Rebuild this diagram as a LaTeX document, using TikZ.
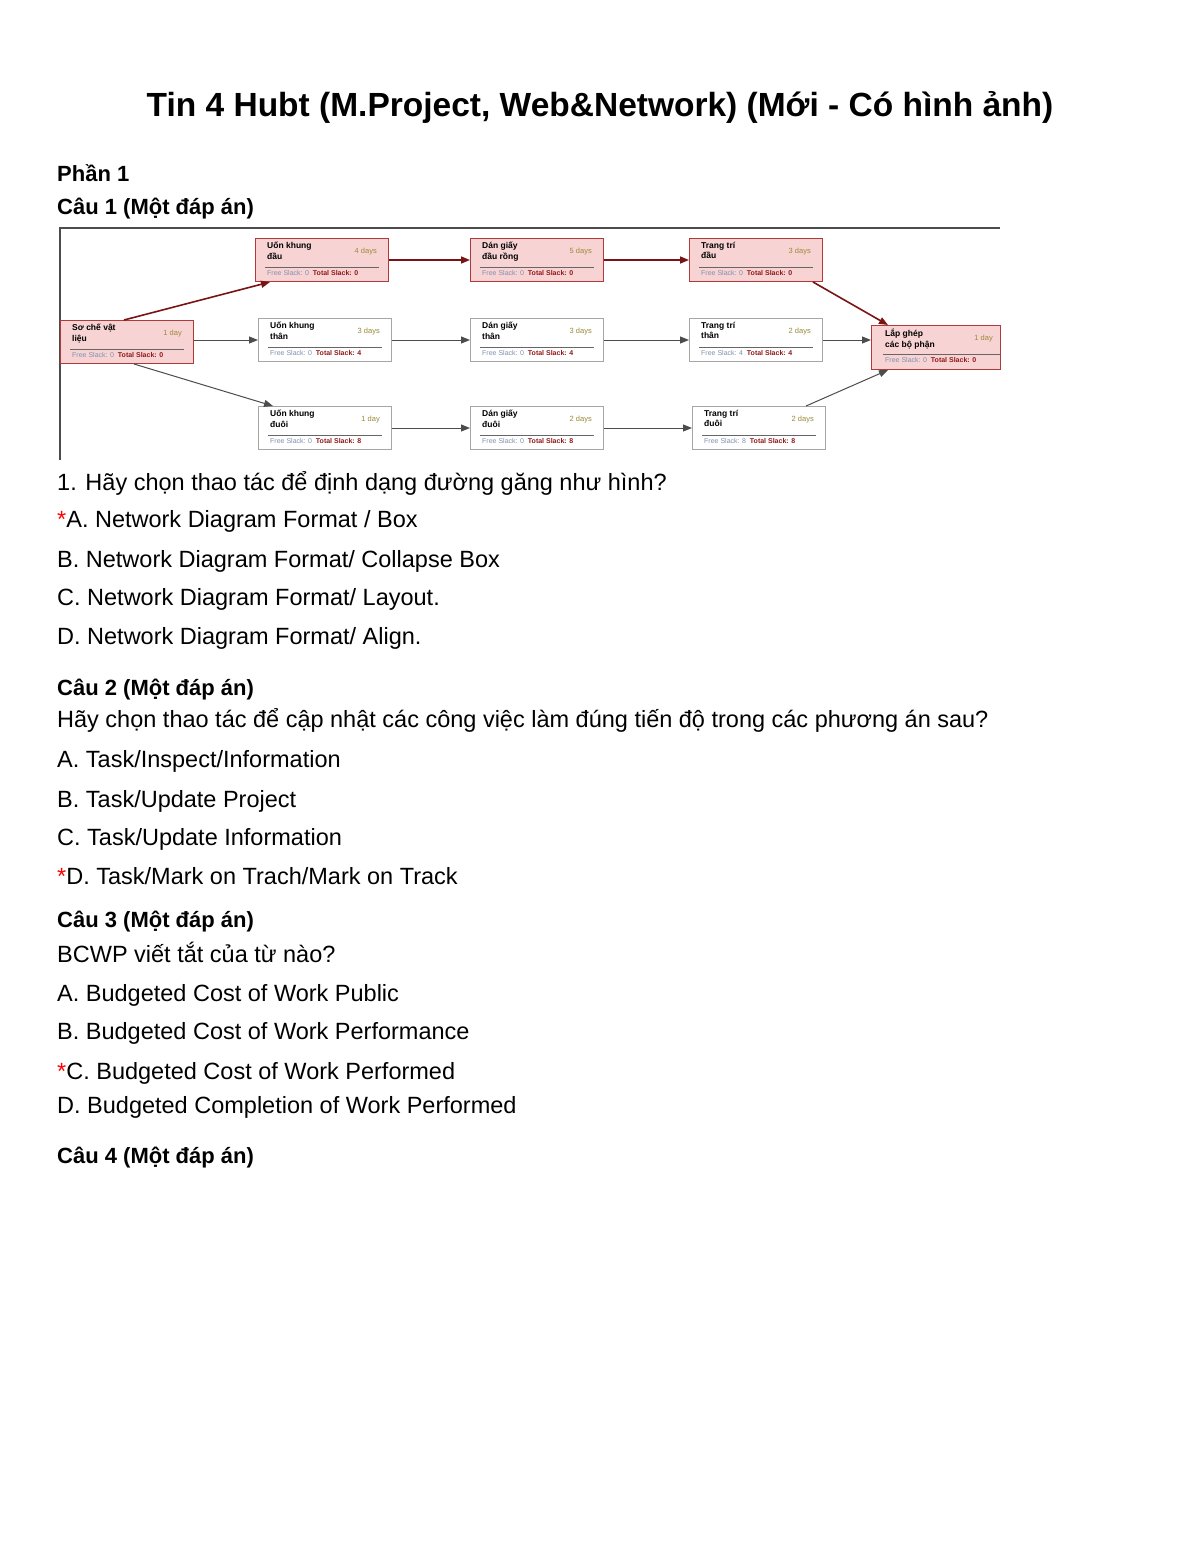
\documentclass[tikz,border=0pt]{standalone}
\usepackage{fontspec}
\setmainfont{Liberation Sans}
\usetikzlibrary{arrows.meta}
\definecolor{crit}{HTML}{B03A3A}
\definecolor{critfill}{HTML}{F8D3D3}
\definecolor{dayc}{HTML}{9A8A3A}
\definecolor{freec}{HTML}{8090B0}
\definecolor{totc}{HTML}{901818}
\tikzset{
 crbox/.style={draw=crit,fill=critfill,line width=1pt},
 nbox/.style={draw=gray!70,fill=white,line width=1pt},
 crarr/.style={draw=totc!85!black,line width=1.6pt,-{Triangle[length=9pt,width=7pt]}},
 narr/.style={draw=black!70,line width=1pt,-{Triangle[length=9pt,width=7pt]}},
 qtext/.style={anchor=base west,inner sep=0,font=\fontsize{23.5}{27}\selectfont},
 qhead/.style={qtext,font=\fontsize{22}{26}\selectfont\bfseries},
}
\newcommand\tk[9]{%
 \node[#4,minimum width=133pt,minimum height=43pt,inner sep=0,anchor=north west] (#1) at (#2,#3) {};
 \node[anchor=north west,inner sep=0,align=left,font=\fontsize{8.5}{10.5}\selectfont\bfseries] at ([shift={(12pt,-4pt)}]#1.north west) {#5\\#6};
 \node[anchor=north east,inner sep=0,font=\fontsize{7.5}{9}\selectfont,text=dayc] at ([shift={(-12pt,-10pt)}]#1.north east) {#7};
 \draw[black!60] ([shift={(10pt,-29pt)}]#1.north west) -- ([shift={(-10pt,-29pt)}]#1.north east);
 \node[anchor=north west,inner sep=0,font=\fontsize{7}{8}\selectfont] at ([shift={(12pt,-32pt)}]#1.north west) {\textcolor{freec}{Free Slack: #8}\ \ \textcolor{totc}{\bfseries Total Slack: #9}};
}
\begin{document}
\begin{tikzpicture}[x=1pt,y=-1pt]
\useasboundingbox[fill=white] (0,0) rectangle (1200,1553);
\node[anchor=base,inner sep=0,font=\fontsize{33.5}{40}\selectfont\bfseries] (title) at (600,116) {Tin 4 Hubt (M.Project, Web\&Network) (Mới - Có hình ảnh)};
\node[qhead] (p1) at (57,181) {Phần 1};
\node[qhead] (c1) at (57,214) {Câu 1 (Một đáp án)};
% frame
\draw[black!70,line width=1.2pt] (60,460) -- (60,228) -- (1000,228);
\tk{a}{60}{320}{crbox}{Sơ chế vật}{liệu}{1 day}{0}{0}
\tk{b1}{255}{238}{crbox}{Uốn khung}{đầu}{4 days}{0}{0}
\tk{b2}{258}{318}{nbox}{Uốn khung}{thân}{3 days}{0}{4}
\tk{b3}{258}{406}{nbox}{Uốn khung}{đuôi}{1 day}{0}{8}
\tk{c1b}{470}{238}{crbox}{Dán giấy}{đầu rồng}{5 days}{0}{0}
\tk{c2}{470}{318}{nbox}{Dán giấy}{thân}{3 days}{0}{4}
\tk{c3}{470}{406}{nbox}{Dán giấy}{đuôi}{2 days}{0}{8}
\tk{d1}{689}{238}{crbox}{Trang trí}{đầu}{3 days}{0}{0}
\tk{d2}{689}{318}{nbox}{Trang trí}{thân}{2 days}{4}{4}
\tk{d3}{692}{406}{nbox}{Trang trí}{đuôi}{2 days}{8}{8}
\node[crbox,minimum width=129pt,minimum height=44pt,inner sep=0,anchor=north west] (e) at (871,325) {};
\node[anchor=north west,inner sep=0,align=left,font=\fontsize{8.5}{10.5}\selectfont\bfseries] at ([shift={(14pt,-4pt)}]e.north west) {Lắp ghép\\các bộ phận};
\node[anchor=north east,inner sep=0,font=\fontsize{7.5}{9}\selectfont,text=dayc] at ([shift={(-8pt,-10pt)}]e.north east) {1 day};
\draw[black!60] ([shift={(12pt,-29pt)}]e.north west) -- ([shift={(0pt,-29pt)}]e.north east);
\node[anchor=north west,inner sep=0,font=\fontsize{7}{8}\selectfont] at ([shift={(14pt,-32pt)}]e.north west) {\textcolor{freec}{Free Slack: 0}\ \ \textcolor{totc}{\bfseries Total Slack: 0}};
% arrows
\draw[crarr] ([xshift=-70pt]a.north east) -- ([xshift=15pt]b1.south west);
\draw[narr] (a.east |- b2.west) -- (b2.west);
\draw[narr] ([xshift=-60pt]a.south east) -- ([xshift=15pt]b3.north west);
\draw[crarr] (b1.east) -- (c1b.west);
\draw[narr] (b2.east) -- (c2.west);
\draw[narr] (b3.east) -- (c3.west);
\draw[crarr] (c1b.east) -- (d1.west);
\draw[narr] (c2.east) -- (d2.west);
\draw[narr] (c3.east) -- (d3.west);
\draw[crarr] ([xshift=-10pt]d1.south east) -- ([xshift=17pt]e.north west);
\draw[narr] (d2.east) -- (d2.east -| e.west);
\draw[narr] ([xshift=-20pt]d3.north east) -- ([xshift=17pt]e.south west);
% questions
\node[qtext] (q1) at (57,490) {1. Hãy chọn thao tác để định dạng đường găng như hình?};
\node[qtext] (q1a) at (57,527) {\textcolor{red}{*}A. Network Diagram Format / Box};
\node[qtext] (q1b) at (57,567) {B. Network Diagram Format/ Collapse Box};
\node[qtext] (q1c) at (57,605) {C. Network Diagram Format/ Layout.};
\node[qtext] (q1d) at (57,644) {D. Network Diagram Format/ Align.};
\node[qhead] (c2h) at (57,695) {Câu 2 (Một đáp án)};
\node[qtext] (q2) at (57,727) {Hãy chọn thao tác để cập nhật các công việc làm đúng tiến độ trong các phương án sau?};
\node[qtext] (q2a) at (57,767) {A. Task/Inspect/Information};
\node[qtext] (q2b) at (57,807) {B. Task/Update Project};
\node[qtext] (q2c) at (57,845) {C. Task/Update Information};
\node[qtext] (q2d) at (57,884) {\textcolor{red}{*}D. Task/Mark on Trach/Mark on Track};
\node[qhead] (c3h) at (57,927) {Câu 3 (Một đáp án)};
\node[qtext] (q3) at (57,962) {BCWP viết tắt của từ nào?};
\node[qtext] (q3a) at (57,1001) {A. Budgeted Cost of Work Public};
\node[qtext] (q3b) at (57,1039) {B. Budgeted Cost of Work Performance};
\node[qtext] (q3c) at (57,1079) {\textcolor{red}{*}C. Budgeted Cost of Work Performed};
\node[qtext] (q3d) at (57,1113) {D. Budgeted Completion of Work Performed};
\node[qhead] (c4h) at (57,1163) {Câu 4 (Một đáp án)};
\end{tikzpicture}
\end{document}
